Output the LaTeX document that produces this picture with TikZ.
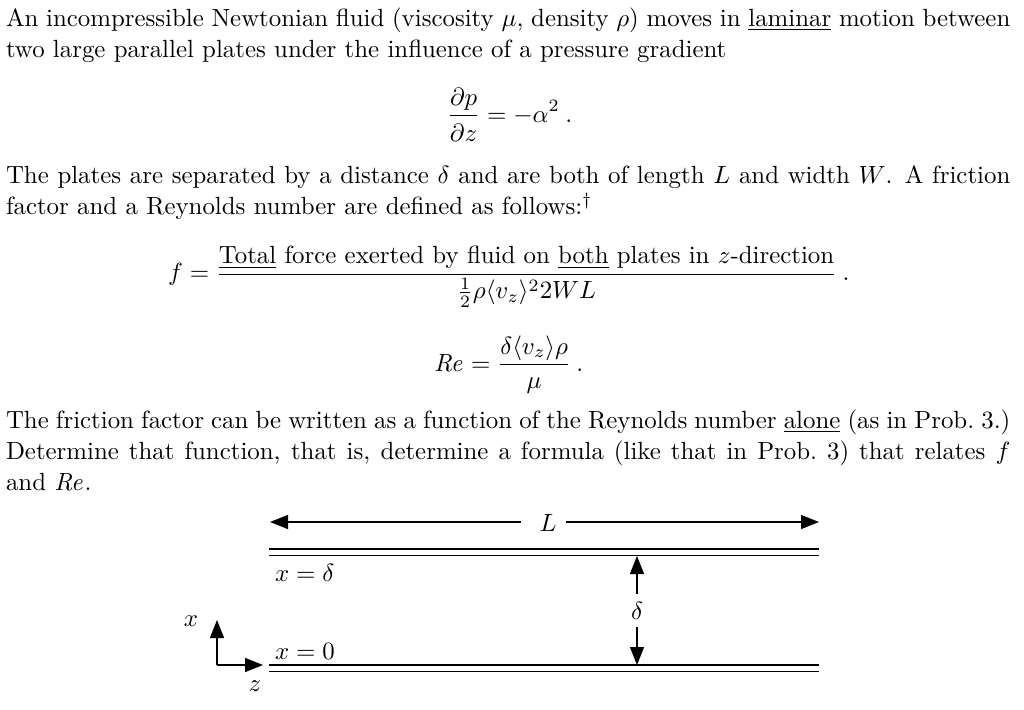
\documentclass[tikz,border=0pt]{standalone}
\usetikzlibrary{arrows.meta}
\tikzset{
  x=1pt,y=-1pt,
  txt/.style={scale=2.486,anchor=base west,inner sep=0pt,outer sep=0pt},
  mid/.style={scale=2.486,anchor=base,inner sep=0pt,outer sep=0pt},
  plate/.style={line width=1.4pt,black},
  arr/.style={line width=1.4pt,black,-{Triangle[length=18pt,width=14pt]},shorten >=0pt},
}
\newcommand{\jl}[1]{\makebox[404pt][s]{#1}}
\newcommand{\dotgap}{\kern2.2pt}
\begin{document}
\begin{tikzpicture}
\useasboundingbox (0,0) rectangle (1024,709);
\fill[white] (0,0) rectangle (1024,709);
\node[txt] (t1) at (6,26.2) {\jl{An incompressible Newtonian fluid (viscosity $\mu$, density $\rho$) moves in \underline{laminar} motion between}};
\node[txt] (t2) at (6,57.2) {two large parallel plates under the influence of a pressure gradient};
\node[txt] (e1) at (447,122) {$\displaystyle \frac{\partial p}{\rule{0pt}{8.8pt}\partial z} = -\alpha^2\dotgap.$};
\node[txt] (t3) at (6,183.2) {\jl{The plates are separated by a distance $\delta$ and are both of length $L$ and width $W$. A friction}};
\node[txt] (t4) at (6,214.2) {factor and a Reynolds number are defined as follows:$^\dagger$};
\node[txt] (e2) at (168,280.7) {$\displaystyle f = \frac{\mbox{\underline{Total} force exerted by fluid on \underline{both} plates in $z$-direction}}{\frac12\rho\langle v_z\rangle^2 2WL}\dotgap.$};
\node[txt] (e3) at (434,371) {$\displaystyle \mathit{Re} = \frac{\delta\langle v_z\rangle\rho}{\mu}\dotgap.$};
\node[txt] (t5) at (6,428.2) {\jl{The friction factor can be written as a function of the Reynolds number \underline{alone} (as in Prob.~3.)}};
\node[txt] (t6) at (6,459.2) {\jl{Determine that function, that is, determine a formula (like that in Prob.~3) that relates $f$}};
\node[txt] (t7) at (6,490.2) {and $\mathit{Re}$.};
% diagram labels
\node[mid] (lL) at (548,531) {$L$};
\node[txt] (lt) at (275,581) {$x=\delta$};
\node[txt] (lb) at (275,659) {$x=0$};
\node[mid] (ld) at (637,619) {$\delta$};
\node[mid] (lx) at (191,626) {$x$};
\node[mid] (lz) at (255,691) {$z$};
% coordinates
\coordinate (Ll) at (270,522);
\coordinate (Lr) at (819,522);
\coordinate (La) at (521,522);
\coordinate (Lc) at (566,522);
\coordinate (p1a) at (269,549); \coordinate (p1b) at (819,549);
\coordinate (p2a) at (269,555.5); \coordinate (p2b) at (819,555.5);
\coordinate (p3a) at (269,665); \coordinate (p3b) at (819,665);
\coordinate (p4a) at (269,671.5); \coordinate (p4b) at (819,671.5);
\coordinate (du0) at (637,594); \coordinate (du1) at (637,556);
\coordinate (dd0) at (637,627); \coordinate (dd1) at (637,665);
\coordinate (o) at (217,665); \coordinate (ox) at (217,620); \coordinate (oz) at (263,665);
% lines
\draw[arr] (La) -- (Ll);
\draw[arr] (Lc) -- (Lr);
\draw[plate] (p1a) -- (p1b);
\draw[plate] (p2a) -- (p2b);
\draw[plate] (p3a) -- (p3b);
\draw[plate] (p4a) -- (p4b);
\draw[arr] (du0) -- (du1);
\draw[arr] (dd0) -- (dd1);
\draw[arr] (o) -- (ox);
\draw[arr] (o) -- (oz);
\end{tikzpicture}
\end{document}
